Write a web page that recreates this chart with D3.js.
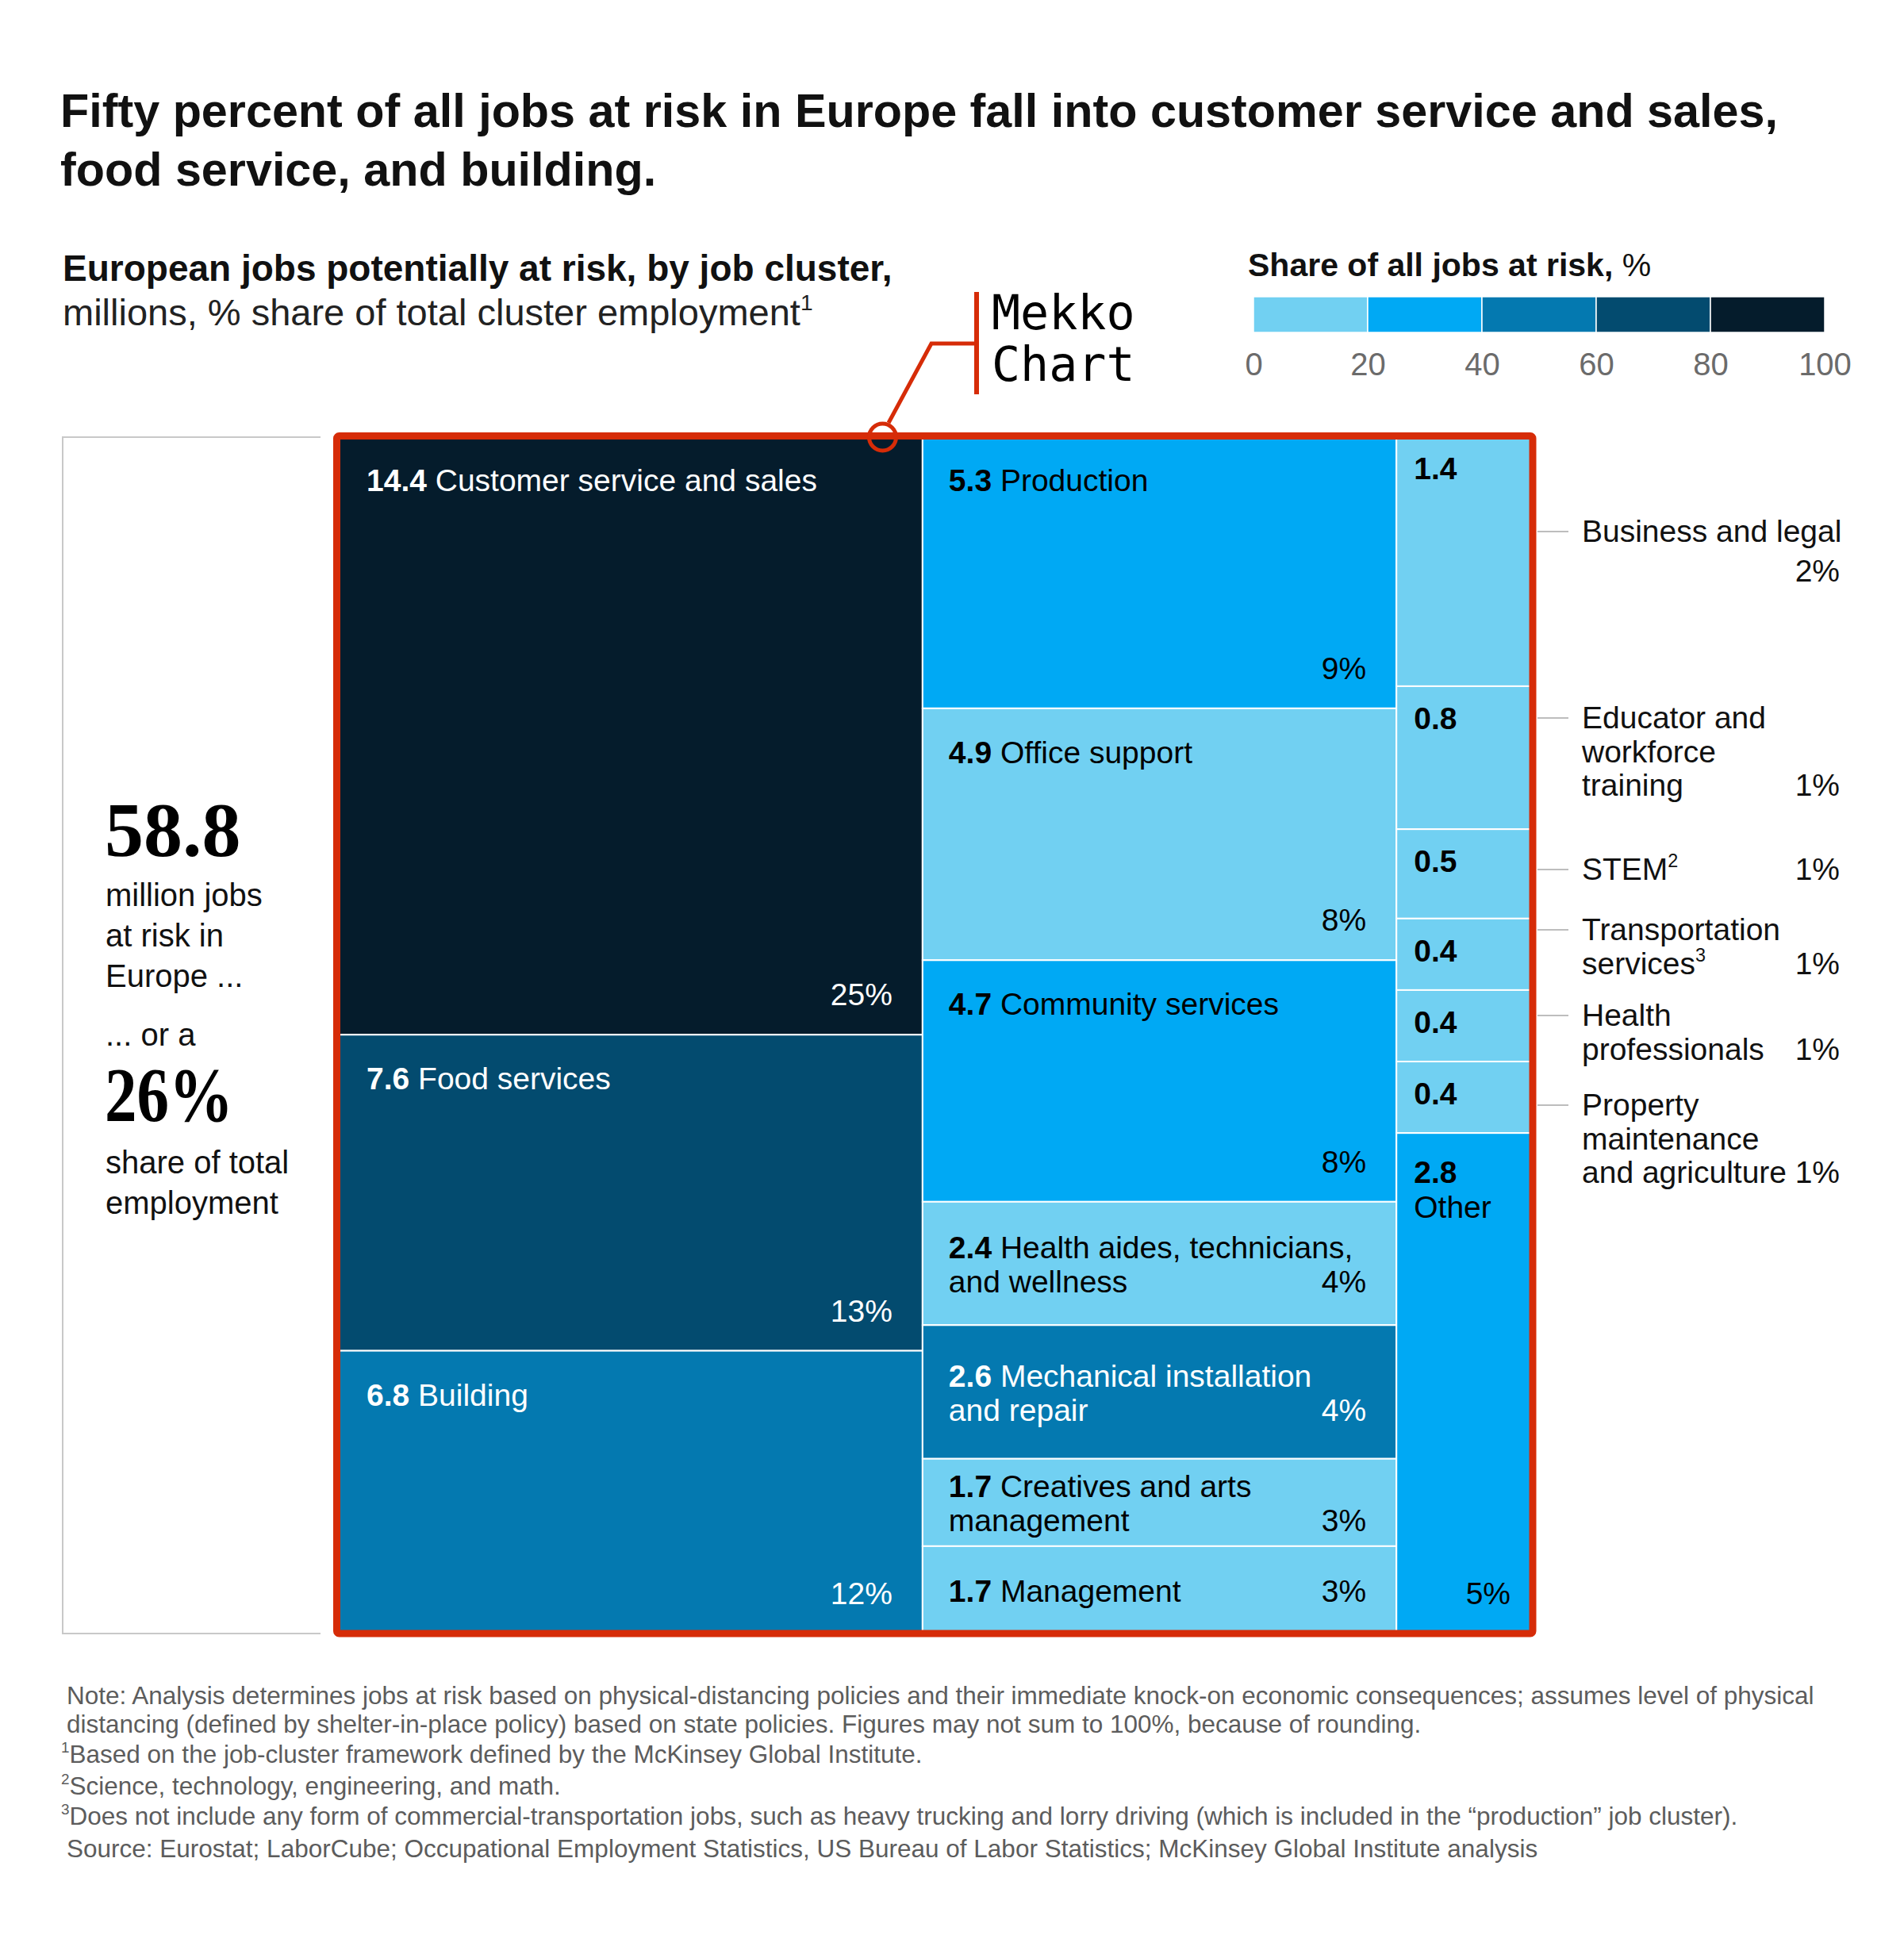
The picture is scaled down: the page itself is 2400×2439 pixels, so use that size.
<!DOCTYPE html>
<html><head><meta charset="utf-8">
<script src="https://cdn.jsdelivr.net/npm/d3@7"></script>
<style>
body{margin:0;background:#fff}
svg{display:block}
</style>
</head><body>
<svg id="chart" width="2400" height="2439" font-family='"Liberation Sans", Arial, sans-serif'></svg>
<script>
// ---------------- DATA ----------------
const clusters = [
  "Customer service and sales",
  "Food services",
  "Building",
  "Production",
  "Office support",
  "Community services",
  "Health aides, technicians,\nand wellness",
  "Mechanical installation\nand repair",
  "Creatives and arts\nmanagement",
  "Management",
  "Business and legal",
  "Educator and\nworkforce\ntraining",
  "STEM²",
  "Transportation\nservices³",
  "Health\nprofessionals",
  "Property\nmaintenance\nand agriculture",
  "Other"
];
const jobsMillions      = [14.4, 7.6, 6.8, 5.3, 4.9, 4.7, 2.4, 2.6, 1.7, 1.7, 1.4, 0.8, 0.5, 0.4, 0.4, 0.4, 2.8];
const shareOfEmployment = [25, 13, 12, 9, 8, 8, 4, 4, 3, 3, 2, 1, 1, 1, 1, 1, 5];
const mekkoColumn       = [0, 0, 0, 1, 1, 1, 1, 1, 1, 1, 2, 2, 2, 2, 2, 2, 2];
// legend band (lower bound, %) of "share of all jobs at risk"
const riskShareBand     = [80, 60, 40, 20, 0, 20, 0, 40, 0, 0, 0, 0, 0, 0, 0, 0, 20];
const legendTicks  = [0, 20, 40, 60, 80, 100];
const legendColors = ["#71d0f2", "#00a9f4", "#0479b0", "#034b6f", "#051c2c"];
const totalShareOfEmployment = 26;

const footnotes = [
  "Note: Analysis determines jobs at risk based on physical-distancing policies and their immediate knock-on economic consequences; assumes level of physical",
  "distancing (defined by shelter-in-place policy) based on state policies. Figures may not sum to 100%, because of rounding.",
  "¹Based on the job-cluster framework defined by the McKinsey Global Institute.",
  "²Science, technology, engineering, and math.",
  "³Does not include any form of commercial-transportation jobs, such as heavy trucking and lorry driving (which is included in the “production” job cluster).",
  " Source: Eurostat; LaborCube; Occupational Employment Statistics, US Bureau of Labor Statistics; McKinsey Global Institute analysis"
];

// ---------------- HELPERS ----------------
const svg = d3.select("#chart");
const RED = "#d62c08";
const SUP = {"¹":"1","²":"2","³":"3"};
function rich(textSel, str, fs) {
  let buf = "", resetDy = 0;
  const flush = () => {
    if (buf) { const t = textSel.append("tspan").text(buf); if (resetDy) { t.attr("dy", resetDy); resetDy = 0; } buf = ""; }
  };
  for (const ch of str) {
    if (SUP[ch]) {
      flush();
      textSel.append("tspan").attr("font-size", fs * 0.6).attr("dy", -fs * 0.4 + (resetDy||0)).text(SUP[ch]);
      resetDy = fs * 0.4;
    } else buf += ch;
  }
  flush();
  return textSel;
}
const fmt1 = d3.format(".1f");

// ---------------- TITLE ----------------
const title = ["Fifty percent of all jobs at risk in Europe fall into customer service and sales,",
               "food service, and building."];
svg.selectAll("text.title").data(title).join("text")
  .attr("class","title").attr("x", 76).attr("y", (d,i) => 160 + i*74)
  .attr("font-size", 59.3).attr("font-weight", "bold").attr("fill", "#111").text(d => d);

svg.append("text").attr("x", 79).attr("y", 354).attr("font-size", 46).attr("font-weight","bold")
  .attr("fill","#111").text("European jobs potentially at risk, by job cluster,");
rich(svg.append("text").attr("x", 79).attr("y", 410).attr("font-size", 47).attr("fill","#222"),
  "millions, % share of total cluster employment¹", 47);

// ---------------- LEGEND ----------------
const lx = d3.scaleLinear().domain([0,100]).range([1580, 2300]);
const lt = svg.append("text").attr("x", 1573).attr("y", 348).attr("font-size", 41).attr("fill","#111");
lt.append("tspan").attr("font-weight","bold").text("Share of all jobs at risk,");
lt.append("tspan").text(" %");
svg.append("g").selectAll("rect").data(legendColors).join("rect")
  .attr("x", (d,i) => lx(legendTicks[i])).attr("width", (d,i) => lx(legendTicks[i+1]) - lx(legendTicks[i]))
  .attr("y", 374).attr("height", 45).attr("fill", d => d).attr("stroke","#fff").attr("stroke-width",1.5);
const lAxis = svg.append("g").attr("transform","translate(0,419)")
  .call(d3.axisBottom(lx).tickValues(legendTicks).tickSize(0).tickPadding(26).tickFormat(d3.format("d")));
lAxis.attr("font-family", null);
lAxis.select(".domain").remove();
lAxis.selectAll("text").attr("font-size", 40).attr("fill","#6b6b6b");
lAxis.attr("font-size", 40);

// ---------------- MEKKO ----------------
const plot = {x0: 424.5, x1: 1932, y0: 549.5, y1: 2059};
const total = d3.sum(jobsMillions);
const nCols = d3.max(mekkoColumn) + 1;
const colTotals = d3.range(nCols).map(c => d3.sum(jobsMillions.filter((v,i) => mekkoColumn[i] === c)));
const colStarts = d3.cumsum([0, ...colTotals]);
const x = d3.scaleLinear().domain([0, total]).range([plot.x0, plot.x1]);
const yScales = colTotals.map(t => d3.scaleLinear().domain([0, t]).range([plot.y0, plot.y1]));
const color = d3.scaleThreshold().domain([20,40,60,80]).range(legendColors);

const running = colTotals.map(() => 0);
const cells = jobsMillions.map((v, i) => {
  const c = mekkoColumn[i];
  const y = yScales[c];
  const cell = {i, name: clusters[i], value: v, pct: shareOfEmployment[i], col: c, band: riskShareBand[i],
    x0: x(colStarts[c]), x1: x(colStarts[c] + colTotals[c]), y0: y(running[c]), y1: y(running[c] + v)};
  running[c] += v;
  return cell;
});

const gCells = svg.append("g");
gCells.selectAll("rect").data(cells).join("rect")
  .attr("x", d => d.x0).attr("y", d => d.y0)
  .attr("width", d => d.x1 - d.x0).attr("height", d => d.y1 - d.y0)
  .attr("fill", d => color(d.band)).attr("stroke", "#fff").attr("stroke-width", 2);

const FS = 39, LH = 43;
const gLab = svg.append("g");
const callouts = [];
cells.forEach(d => {
  const fg = d.band >= 40 ? "#fff" : "#000";
  const lines = d.name.split("\n");
  const h = d.y1 - d.y0;
  if (d.col < nCols - 1) {
    const tx = d.x0 + 33 + (d.col === 0 ? 4.5 : 0);
    const first = h > 250 ? d.y0 + 69 : (d.y0 + d.y1) / 2 - (lines.length - 1) * LH / 2 + 15;
    lines.forEach((ln, k) => {
      const t = gLab.append("text").attr("x", tx).attr("y", first + k * LH).attr("font-size", FS).attr("fill", fg);
      if (k === 0) { t.append("tspan").attr("font-weight","bold").text(fmt1(d.value)); t.append("tspan").text(" " + ln); }
      else t.text(ln);
    });
    const py = h > 250 ? d.y1 - 37 : first + (lines.length - 1) * LH;
    gLab.append("text").attr("x", d.x1 - 38).attr("y", py).attr("text-anchor","end")
      .attr("font-size", FS).attr("fill", fg).text(d.pct + "%");
  } else {
    const tx = d.x0 + 22;
    if (d.name === "Other") {
      gLab.append("text").attr("x", tx).attr("y", d.y0 + 63).attr("font-size", FS).attr("font-weight","bold")
        .attr("fill", fg).text(fmt1(d.value));
      gLab.append("text").attr("x", tx).attr("y", d.y0 + 107).attr("font-size", FS).attr("fill", fg).text(d.name);
      gLab.append("text").attr("x", d.x1 - 28).attr("y", d.y1 - 37).attr("text-anchor","end")
        .attr("font-size", FS).attr("fill", fg).text(d.pct + "%");
    } else {
      gLab.append("text").attr("x", tx).attr("y", d.y0 + 54).attr("font-size", FS).attr("font-weight","bold")
        .attr("fill", fg).text(fmt1(d.value));
      callouts.push(d);
    }
  }
});

// callouts to the right of the chart
const calloutBaseline = [683, 918, 1109, 1185, 1293, 1406];
const cx = 1994, pctRight = 2319;
callouts.forEach((d, k) => {
  const lines = d.name.split("\n");
  const b = calloutBaseline[k];
  svg.append("line").attr("x1", 1938).attr("x2", 1977).attr("y1", b - 13).attr("y2", b - 13)
    .attr("stroke", "#bdbdbd").attr("stroke-width", 2);
  let lastW = 0;
  lines.forEach((ln, j) => {
    const t = rich(svg.append("text").attr("x", cx).attr("y", b + j * 42.5).attr("font-size", FS).attr("fill","#111"), ln, FS);
    lastW = t.node().getComputedTextLength();
  });
  const p = svg.append("text").attr("text-anchor","end").attr("x", pctRight).attr("font-size", FS).attr("fill","#111").text(d.pct + "%");
  const pw = p.node().getComputedTextLength();
  const extra = (cx + lastW + 8 > pctRight - pw) ? 1 : 0;
  p.attr("y", b + (lines.length - 1 + extra) * 42.5 + (extra ? 7 : 0));
});

// red outline
svg.append("rect").attr("x", plot.x0).attr("y", plot.y0).attr("width", plot.x1 - plot.x0).attr("height", plot.y1 - plot.y0)
  .attr("rx", 3).attr("fill", "none").attr("stroke", RED).attr("stroke-width", 9);

// ---------------- LEFT BOX ----------------
svg.append("path").attr("d", "M404,551H79V2059H404").attr("fill","none").attr("stroke","#c8c8c8").attr("stroke-width",2);
const lb = svg.append("g").attr("fill","#000");
lb.append("text").attr("x", 132).attr("y", 1079).attr("font-family",'"Liberation Serif", serif').attr("font-weight","bold")
  .attr("font-size", 98).text(fmt1(total));
["million jobs","at risk in","Europe ..."].forEach((s,i) =>
  lb.append("text").attr("x", 133).attr("y", 1142 + i*51).attr("font-size", 40).attr("fill","#111").text(s));
lb.append("text").attr("x", 133).attr("y", 1318).attr("font-size", 40).attr("fill","#111").text("... or a");
lb.append("text").attr("x", 132).attr("y", 1413).attr("font-family",'"Liberation Serif", serif').attr("font-weight","bold")
  .attr("font-size", 98).attr("textLength", 162).attr("lengthAdjust", "spacingAndGlyphs")
  .text(totalShareOfEmployment + "%");
["share of total","employment"].forEach((s,i) =>
  lb.append("text").attr("x", 133).attr("y", 1479 + i*51).attr("font-size", 40).attr("fill","#111").text(s));

// ---------------- MEKKO ANNOTATION ----------------
svg.append("path").attr("d", "M1231,368V497").attr("stroke", RED).attr("stroke-width", 6).attr("fill","none");
svg.append("path").attr("d", "M1231,433H1174L1120,533").attr("stroke", RED).attr("stroke-width", 5).attr("fill","none");
svg.append("circle").attr("cx", 1112.5).attr("cy", 551).attr("r", 17).attr("fill","none").attr("stroke", RED).attr("stroke-width", 5);
["Mekko","Chart"].forEach((s,i) =>
  svg.append("text").attr("x", 1250).attr("y", 415 + i*65).attr("font-family",'"DejaVu Sans Mono", "Liberation Mono", monospace')
    .attr("font-size", 60).attr("fill","#000").text(s));

// ---------------- FOOTNOTES ----------------
const fnBase = [2148, 2184, 2222, 2262, 2300, 2341];
footnotes.forEach((s, i) => {
  const startsSup = SUP[s[0]] !== undefined;
  rich(svg.append("text").attr("x", startsSup ? 77 : 84).attr("y", fnBase[i]).attr("font-size", 31.5).attr("fill","#5c5c5c"), s, 31.5);
});
</script>
</body></html>
